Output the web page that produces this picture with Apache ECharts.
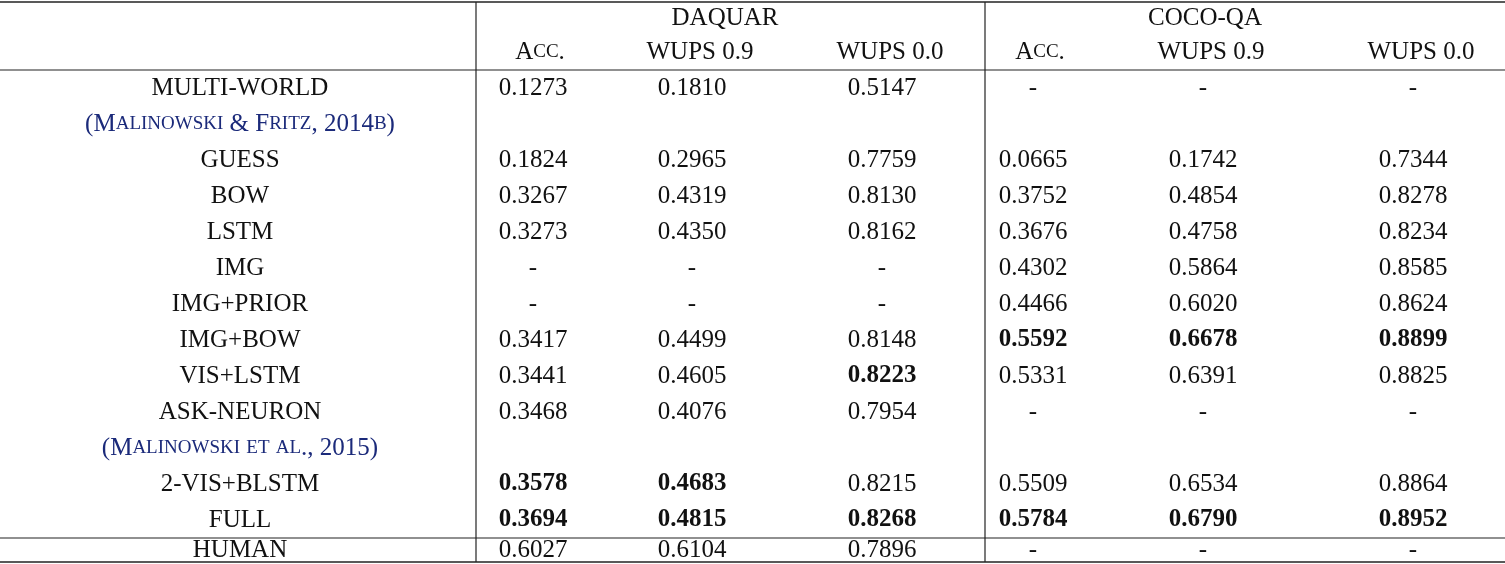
<!DOCTYPE html>
<html>
<head>
<meta charset="utf-8">
<script src="https://cdn.jsdelivr.net/npm/echarts@6/dist/echarts.min.js"></script>
<style>html,body{margin:0;background:#fff}#main{width:1505px;height:564px}</style>
</head>
<body>
<div id="main"></div>
<script>
var methods = ['MULTI-WORLD', '(Malinowski & Fritz, 2014b)', 'GUESS', 'BOW', 'LSTM', 'IMG', 'IMG+PRIOR',
  'IMG+BOW', 'VIS+LSTM', 'ASK-NEURON', '(Malinowski et al., 2015)', '2-VIS+BLSTM', 'FULL', 'HUMAN'];
var citeRows = [1, 10];
// '' = empty cell, '-' = not reported
var daquarAcc = ['0.1273', '', '0.1824', '0.3267', '0.3273', '-', '-', '0.3417', '0.3441', '0.3468', '', '0.3578', '0.3694', '0.6027'];
var daquarW9 = ['0.1810', '', '0.2965', '0.4319', '0.4350', '-', '-', '0.4499', '0.4605', '0.4076', '', '0.4683', '0.4815', '0.6104'];
var daquarW0 = ['0.5147', '', '0.7759', '0.8130', '0.8162', '-', '-', '0.8148', '0.8223', '0.7954', '', '0.8215', '0.8268', '0.7896'];
var cocoAcc = ['-', '', '0.0665', '0.3752', '0.3676', '0.4302', '0.4466', '0.5592', '0.5331', '-', '', '0.5509', '0.5784', '-'];
var cocoW9 = ['-', '', '0.1742', '0.4854', '0.4758', '0.5864', '0.6020', '0.6678', '0.6391', '-', '', '0.6534', '0.6790', '-'];
var cocoW0 = ['-', '', '0.7344', '0.8278', '0.8234', '0.8585', '0.8624', '0.8899', '0.8825', '-', '', '0.8864', '0.8952', '-'];
// bold cells as [row, column]
var boldCells = [[7, 3], [7, 4], [7, 5], [8, 2], [11, 0], [11, 1], [12, 0], [12, 1], [12, 2], [12, 3], [12, 4], [12, 5]];
var groups = ['DAQUAR', 'COCO-QA'];
var subHeads = ['Acc.', 'WUPS 0.9', 'WUPS 0.0', 'Acc.', 'WUPS 0.9', 'WUPS 0.0'];

var columns = [daquarAcc, daquarW9, daquarW0, cocoAcc, cocoW9, cocoW0];
var colX = [533, 692, 882, 1033, 1203, 1413];
var labelX = 240;
var FONT = '"Liberation Serif", "DejaVu Serif", serif';
var FS = 25, SC = 19;

// small caps: lowercase runs become smaller uppercase
function smallCaps(s) {
  var out = '', runs = s.match(/[a-z]+|[^a-z]+/g);
  runs.forEach(function (r) {
    out += /[a-z]/.test(r) ? '{s|' + r.toUpperCase() + '}' : '{n|' + r + '}';
  });
  return out;
}

function text(x, y, str, opt) {
  opt = opt || {};
  return {
    type: 'text', x: x, y: y,
    style: {
      text: str, fill: opt.fill || '#111', font: (opt.bold ? 'bold ' : '') + FS + 'px ' + FONT,
      align: 'center', verticalAlign: 'middle',
      rich: opt.rich
    }
  };
}
function line(x1, y1, x2, y2, w) {
  return { type: 'line', shape: { x1: x1, y1: y1, x2: x2, y2: y2 }, style: { stroke: '#222', lineWidth: w || 1.2 } };
}

var elements = [];
var headY = [18, 52], rowY0 = 88, rowH = 36;
var ruleTop = 2, ruleHead = 70, ruleHuman = rowY0 + 12.5 * rowH, ruleBottom = 562;
var rich = function (fill) {
  return {
    n: { font: FS + 'px ' + FONT, fill: fill },
    s: { font: SC + 'px ' + FONT, fill: fill }
  };
};

elements.push(text(725, headY[0], groups[0]));
elements.push(text(1205, headY[0], groups[1]));
subHeads.forEach(function (h, i) {
  elements.push(text(colX[i] + (i % 3 === 0 ? 7 : 8), headY[1], smallCaps(h), { rich: rich('#111') }));
});

methods.forEach(function (m, r) {
  var y = rowY0 + r * rowH;
  if (r === 13) y = (ruleHuman + ruleBottom) / 2;
  var cite = citeRows.indexOf(r) >= 0;
  elements.push(text(labelX, y, cite ? smallCaps(m) : m, cite ? { rich: rich('#1b2a7a') } : {}));
  columns.forEach(function (col, c) {
    var v = col[r];
    if (!v) return;
    var bold = boldCells.some(function (b) { return b[0] === r && b[1] === c; });
    elements.push(text(colX[c], y, v, { bold: bold }));
  });
});

elements.push(line(0, ruleTop, 1505, ruleTop, 1.5));
elements.push(line(0, ruleHead, 1505, ruleHead));
elements.push(line(0, ruleHuman, 1505, ruleHuman));
elements.push(line(0, ruleBottom, 1505, ruleBottom, 1.5));
elements.push(line(476, ruleTop, 476, ruleBottom));
elements.push(line(985, ruleTop, 985, ruleBottom));

var chartDom = document.getElementById('main');
var myChart = echarts.init(chartDom);
myChart.setOption({ animation: false, graphic: { elements: elements } });
</script>
</body>
</html>
